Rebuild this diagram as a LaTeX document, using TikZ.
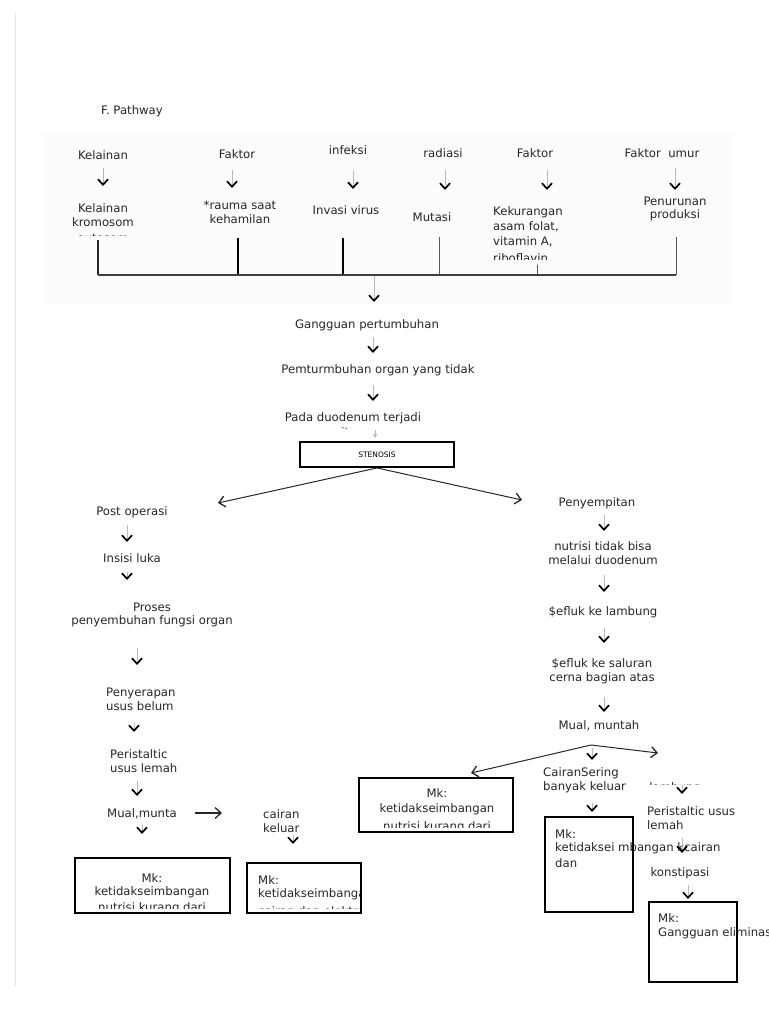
\documentclass[tikz,border=0pt]{standalone}
\usepackage{fontspec}
\setmainfont{DejaVu Sans}
\usetikzlibrary{arrows.meta}
\begin{document}
\begin{tikzpicture}[x=1pt,y=-1pt,
  txt/.style={inner sep=0pt,align=center,font=\fontsize{11.7}{13.8}\selectfont,text=black!85},
  ltxt/.style={txt,align=left,anchor=west},
  vhead/.style={draw=gray!55,line width=0.6pt,-{Straight Barb[length=5.5pt,width=10pt,line width=1.7pt,color=black]}},
  bigarr/.style={draw=black!85,line width=1pt,-{Straight Barb[length=6pt,width=11pt,line width=1.3pt]}},
  mkbox/.style={draw=black,line width=1.9pt,inner sep=0pt},
  thinmerge/.style={draw=black!65,line width=0.9pt},
  midmerge/.style={draw=black!85,line width=1.3pt},
  thickmerge/.style={draw=black,line width=2pt}
]
\useasboundingbox (0,0) rectangle (768,1024);
\newcommand\vArr[4]{\coordinate (#1s) at (#2,#3); \coordinate (#1e) at (#2,#4); \draw[vhead] (#1s) -- (#1e);}

% faint page features
\fill[gray!2.5] (43,133) rectangle (733,303);
\draw[gray!20,line width=0.8pt] (15,13) -- (15,986);

% title
\node[txt] (title) at (132,111) {F. Pathway};

% top row
\node[txt] (t1) at (103,155) {Kelainan};
\node[txt] (t2) at (237,154) {Faktor};
\node[txt] (t3) at (348,150) {infeksi};
\node[txt] (t4) at (443,153) {radiasi};
\node[txt] (t5) at (535,153) {Faktor};
\node[txt] (t6) at (662,153) {Faktor\ \ umur};

\vArr{at1}{103}{168}{186}
\vArr{at2}{232}{170}{188}
\vArr{at3}{353}{170}{189}
\vArr{at4}{445}{170}{190}
\vArr{at5}{547}{170}{190}
\vArr{at6}{675}{168}{190}

\node[txt] (b1) at (103,215) {Kelainan\\kromosom};
\begin{scope}
  \clip (60,231) rectangle (150,235.5);
  \node[txt] (b1c) at (103,238) {autosom};
\end{scope}
\node[txt] (b2) at (240,212) {*rauma saat\\kehamilan};
\node[txt] (b3) at (346,210) {Invasi virus};
\node[txt] (b4) at (432,217) {Mutasi};
\node[ltxt,font=\fontsize{11.7}{15}\selectfont] (b5) at (493,227) {Kekurangan\\asam folat,\\vitamin A,};
\begin{scope}
  \clip (480,248) rectangle (600,259.5);
  \node[ltxt] (b5c) at (493,258.5) {riboflavin};
\end{scope}
\node[txt] (b6) at (675,209) {Penurunan\\produksi};

% merge lines
\coordinate (v1t) at (98,240);  \coordinate (v1b) at (98,275);
\coordinate (v2t) at (238,238); \coordinate (v2b) at (238,275);
\coordinate (v3t) at (343,238); \coordinate (v3b) at (343,275);
\coordinate (v4t) at (439,237); \coordinate (v4b) at (439,275);
\coordinate (v5t) at (537,265); \coordinate (v5b) at (537,275);
\coordinate (v6t) at (676,237); \coordinate (v6b) at (676,275);
\draw[midmerge] (v1t) -- (v1b);
\draw[thickmerge] (v2t) -- (v2b);
\draw[thickmerge] (v3t) -- (v3b);
\draw[thinmerge] (v4t) -- (v4b);
\draw[thinmerge] (v5t) -- (v5b);
\draw[thinmerge] (v6t) -- (v6b);
\draw[midmerge,draw=black!75,line width=1.1pt] (v1b) -- (v6b);
\vArr{am0}{374}{276}{302}

% middle chain
\node[txt] (m1) at (367,325) {Gangguan pertumbuhan};
\vArr{am1}{373}{337}{353}
\node[txt] (m2) at (378,370) {Pemturmbuhan organ yang tidak};
\vArr{am2}{373}{385}{401}
\node[txt] (m3) at (353,418) {Pada duodenum terjadi};
\begin{scope}
  \clip (280,425.5) rectangle (380,428);
  \node[txt] (m3c) at (325,433.5) {penyempitan};
\end{scope}
\coordinate (tri1) at (375,430); \coordinate (tri2) at (375,438);
\draw[draw=gray!55,line width=0.5pt,-{Triangle[length=4pt,width=4pt]}] (tri1) -- (tri2);
\node[mkbox,minimum width=154pt,minimum height=25pt,font=\fontsize{7.5}{9}\selectfont] (sten) at (377,454.5) {STENOSIS};

% split
\coordinate (splitL) at (218,503);
\coordinate (splitR) at (522,500);
\draw[bigarr] (sten.south) -- (splitL);
\draw[bigarr] (sten.south) -- (splitR);

% left column
\node[txt] (p1) at (132,512) {Post operasi};
\vArr{ap1}{127}{525}{542}
\node[txt] (p2) at (132,558) {Insisi luka};
\vArr{ap2}{127}{572}{580}
\node[txt] (p3) at (152,615) {Proses\\penyembuhan fungsi organ};
\vArr{ap3}{137}{648}{665}
\node[ltxt] (p4) at (106,699) {Penyerapan\\usus belum};
\vArr{ap4}{134}{723}{732}
\node[ltxt] (p5) at (110,761) {Peristaltic\\usus lemah};
\vArr{ap5}{137}{781}{796}
\node[ltxt] (p6) at (107,814) {Mual,munta};
\coordinate (hr1) at (195,813); \coordinate (hr2) at (222,813);
\draw[bigarr,line width=1.4pt] (hr1) -- (hr2);
\vArr{ap6}{142}{825}{834}
\node[ltxt] (p7) at (263,821) {cairan\\keluar};
\vArr{ap7}{293}{835}{844}

% box 1
\node[txt] (k1a) at (152,878) {Mk:};
\node[txt] (k1b) at (152,892) {ketidakseimbangan};
\begin{scope}
  \clip (78,900) rectangle (228,908.5);
  \node[txt] (k1c) at (152,908.5) {nutrisi kurang dari};
\end{scope}
\node[mkbox,minimum width=155pt,minimum height=55pt] (box1) at (152.5,885.5) {};

% box 2
\node[ltxt] (k2a) at (258,880) {Mk:};
\begin{scope}
  \clip (250,870) rectangle (359,908.5);
  \node[ltxt] (k2b) at (258,894) {ketidakseimbangan};
  \node[ltxt] (k2c) at (258,911) {cairan dan elektrolit};
\end{scope}
\node[mkbox,minimum width=114pt,minimum height=50pt] (box2) at (304,888) {};

% right column
\node[txt] (r1) at (597,503) {Penyempitan};
\vArr{ar1}{604}{515}{531}
\node[txt] (r2) at (603,553) {nutrisi tidak bisa\\melalui duodenum};
\vArr{ar2}{604}{575}{592}
\node[txt] (r3) at (603,612) {\$efluk ke lambung};
\vArr{ar3}{604}{628}{643}
\node[txt] (r4) at (602,671) {\$efluk ke saluran\\cerna bagian atas};
\vArr{ar4}{604}{697}{712}
\node[txt] (r5) at (599,726) {Mual, muntah};

\coordinate (sp2) at (591,745);
\coordinate (sp2L) at (471,773);
\coordinate (sp2R) at (658,753);
\draw[bigarr] (sp2) -- (sp2L);
\draw[bigarr] (sp2) -- (sp2R);
\vArr{ar5}{592}{748}{760}

% box 3
\node[txt] (k3a) at (437,793) {Mk:};
\node[txt] (k3b) at (437,809) {ketidakseimbangan};
\begin{scope}
  \clip (362,816) rectangle (510,827.5);
  \node[txt] (k3c) at (437,827) {nutrisi kurang dari};
\end{scope}
\node[mkbox,minimum width=154pt,minimum height=54pt] (box3) at (436,805) {};

\node[ltxt] (r6) at (543,780) {CairanSering\\banyak keluar};
\vArr{ar6}{592}{803}{812}

% box 4
\node[ltxt] (k4a) at (555,834) {Mk:};
\node[ltxt] (k4b) at (555,848) {ketidaksei mbangan kcairan};
\node[ltxt] (k4c) at (555,863) {dan};
\node[mkbox,minimum width=88pt,minimum height=95pt] (box4) at (589,864.5) {};

% right branch
\begin{scope}
  \clip (640,780.5) rectangle (710,784);
  \node[txt] (r7c) at (675,788) {lambung};
\end{scope}
\vArr{ar7}{682}{785}{794}
\node[ltxt] (r7) at (647,818) {Peristaltic usus\\lemah};
\vArr{ar8}{682}{838}{853}
\node[txt] (r8) at (680,873) {konstipasi};
\vArr{ar9}{688}{885}{899}

% box 5
\node[ltxt] (k5a) at (658,918) {Mk:};
\node[ltxt] (k5b) at (658,933) {Gangguan eliminasi};
\node[mkbox,minimum width=88pt,minimum height=80pt] (box5) at (693,942) {};
\end{tikzpicture}
\end{document}
